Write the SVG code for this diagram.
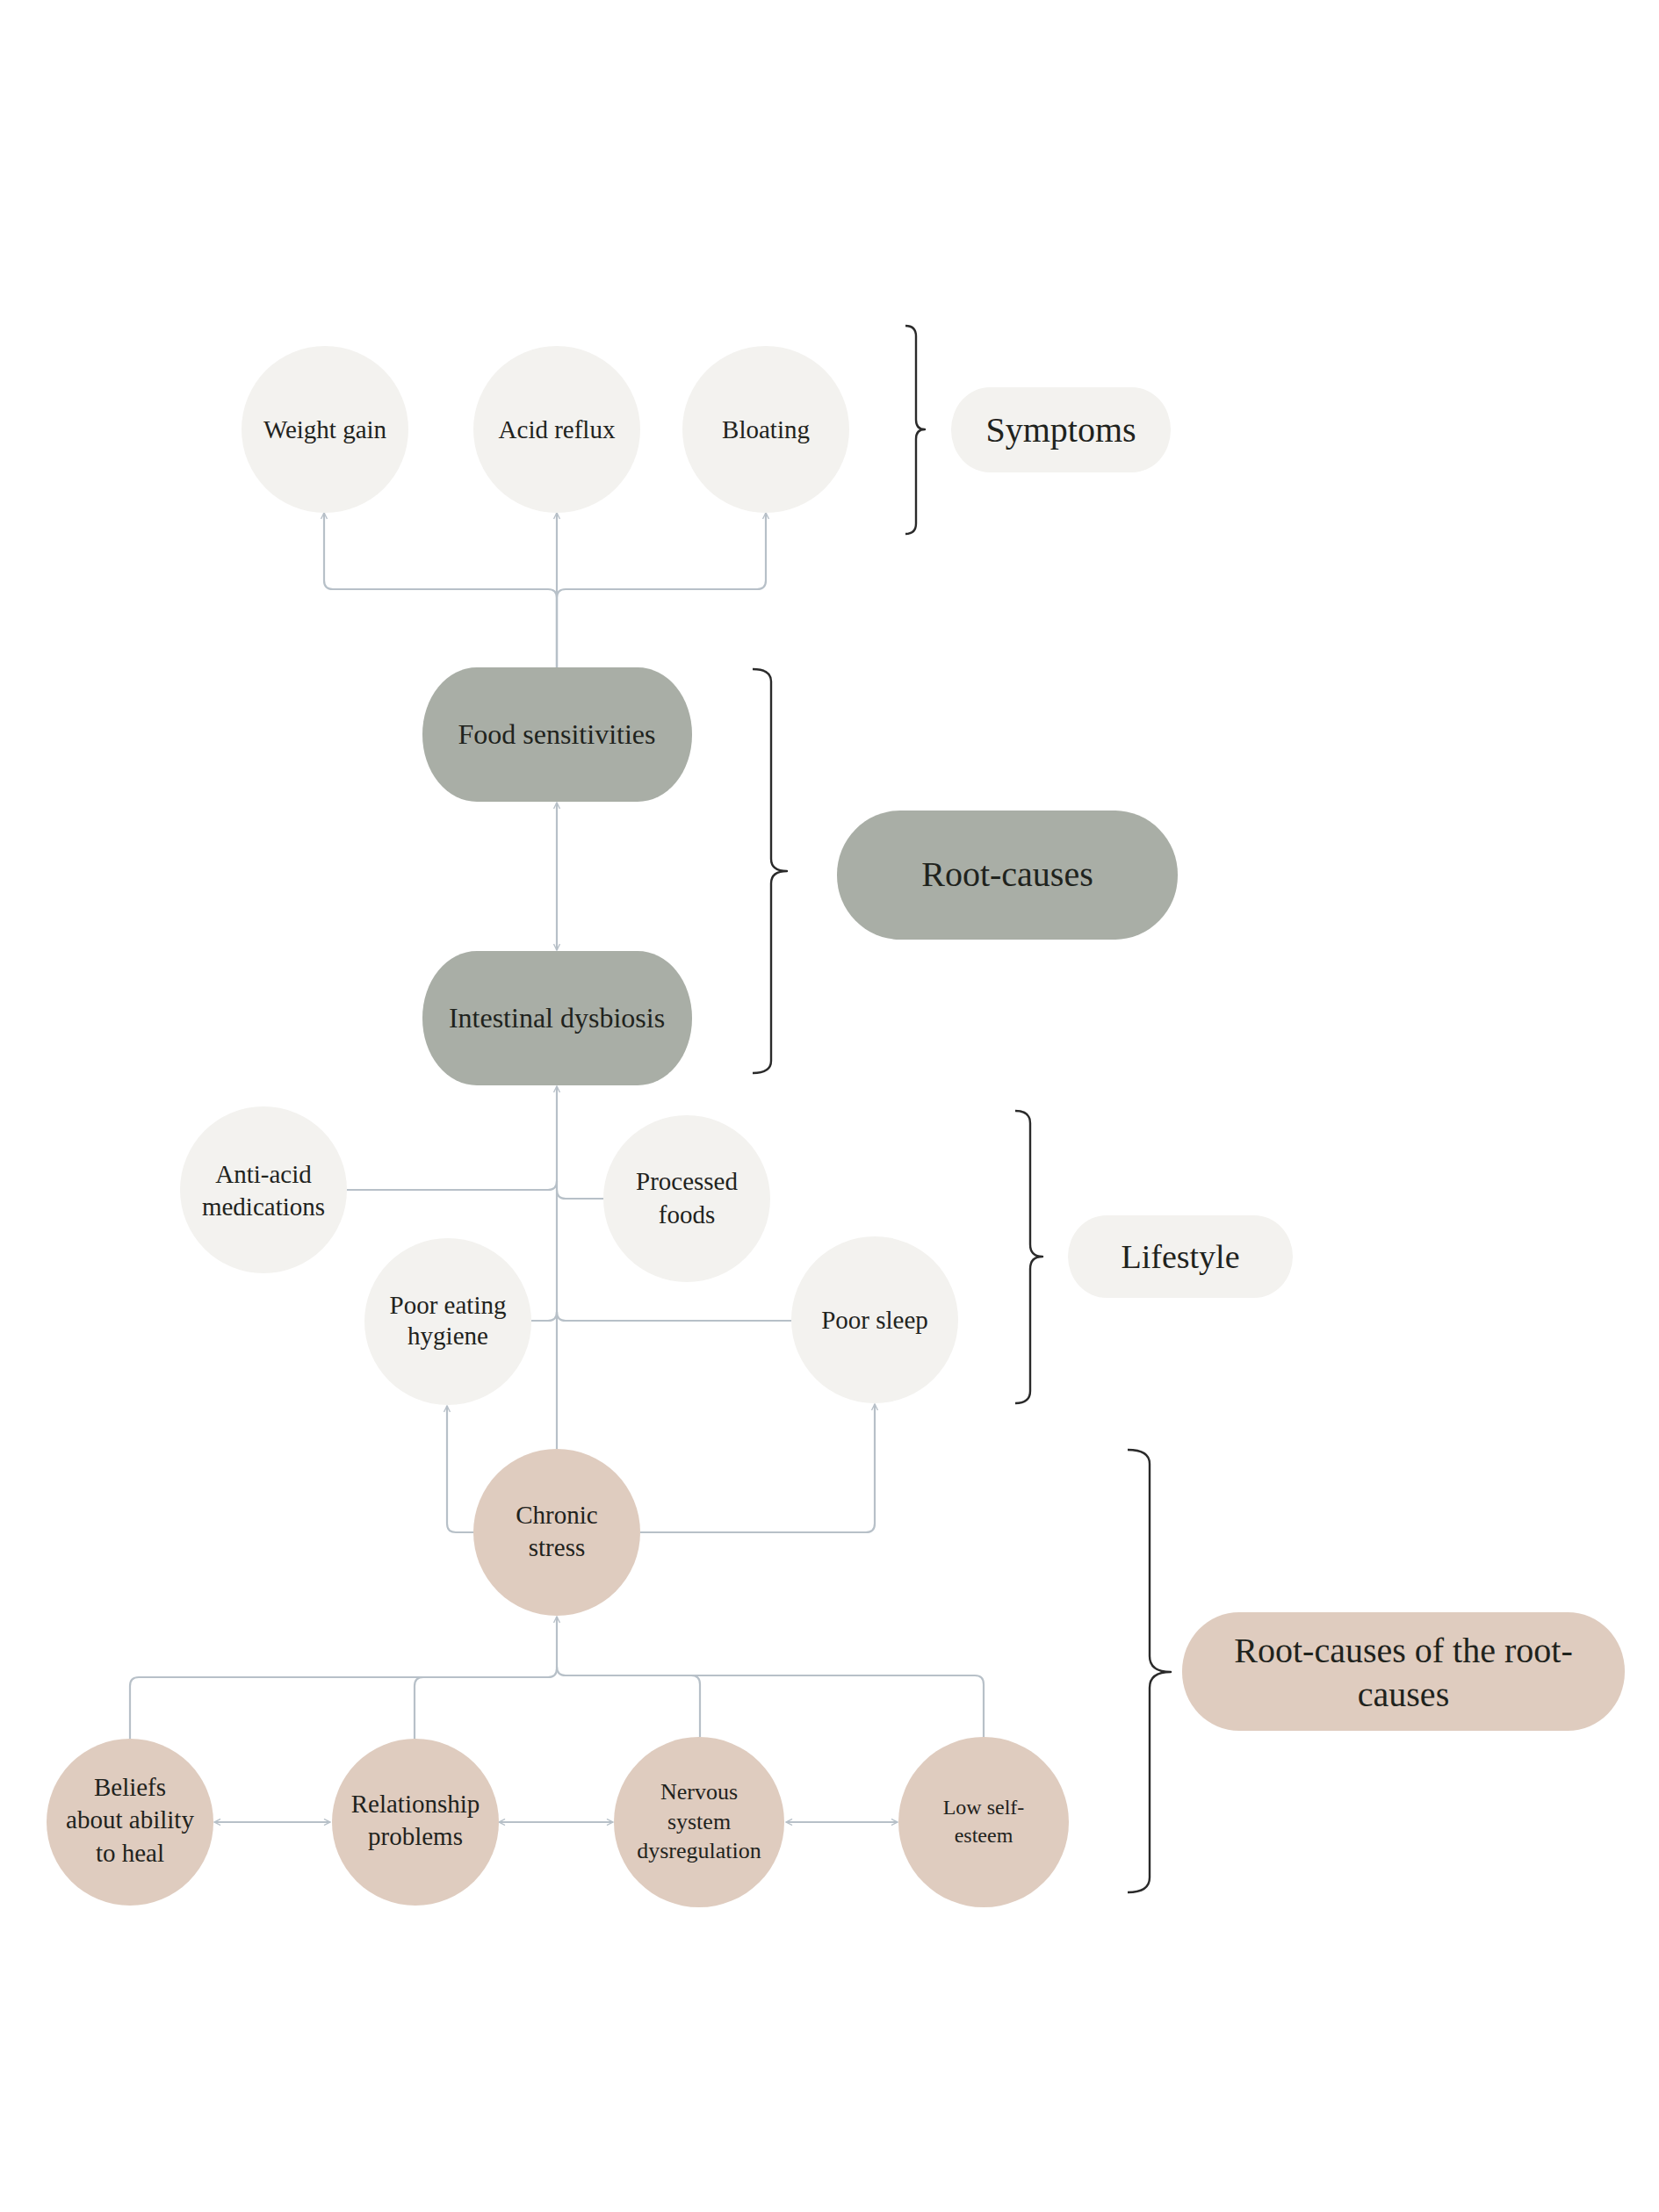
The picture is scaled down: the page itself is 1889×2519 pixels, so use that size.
<svg xmlns="http://www.w3.org/2000/svg" width="1889" height="2519" viewBox="0 0 1889 2519">
<style>
.light{fill:#f3f2ef}
.grey{fill:#a9aea6}
.beige{fill:#dfccbf}
.t{font-family:"Liberation Serif","Times New Roman",serif;fill:#1f231d;text-anchor:middle;dominant-baseline:central}
.n{font-size:29px}
.big{font-size:40px}
.mid{font-size:32px}
.con{fill:none;stroke:#b7c0c8;stroke-width:2.2}
.brace{fill:none;stroke:#2a2a2a;stroke-width:2.4;stroke-linejoin:round}
</style>
<defs>
<marker id="ah" viewBox="0 0 10 10" refX="9" refY="5" markerWidth="4" markerHeight="4" orient="auto-start-reverse" markerUnits="strokeWidth">
<path d="M1,1 L9,5 L1,9" fill="none" stroke="#b7c0c8" stroke-width="1.6"/>
</marker>
</defs>
<rect width="1889" height="2519" fill="#ffffff"/>

<g id="connectors">
<path class="con" d="M634,760 L634,681 Q634,671 624,671 L379,671 Q369,671 369,661 L369,584" marker-end="url(#ah)"/>
<path class="con" d="M634,760 L634,681 Q634,671 644,671 L862,671 Q872,671 872,661 L872,584" marker-end="url(#ah)"/>
<path class="con" d="M634,760 L634,584" marker-end="url(#ah)"/>
<path class="con" d="M634,914 L634,1082" marker-start="url(#ah)" marker-end="url(#ah)"/>
<path class="con" d="M634,1650 L634,1237" marker-end="url(#ah)"/>
<path class="con" d="M395,1355 L624,1355 Q634,1355 634,1345"/>
<path class="con" d="M687,1365 L644,1365 Q634,1365 634,1355"/>
<path class="con" d="M605,1504 L624,1504 Q634,1504 634,1494"/>
<path class="con" d="M901,1504 L644,1504 Q634,1504 634,1494"/>
<path class="con" d="M539,1745 L519,1745 Q509,1745 509,1735 L509,1601" marker-end="url(#ah)"/>
<path class="con" d="M729,1745 L986,1745 Q996,1745 996,1735 L996,1599" marker-end="url(#ah)"/>
<path class="con" d="M148,1980 L148,1920 Q148,1910 158,1910 L624,1910 Q634,1910 634,1900 L634,1841" marker-end="url(#ah)"/>
<path class="con" d="M472,1980 L472,1920 Q472,1910 482,1910 L624,1910"/>
<path class="con" d="M797,1978 L797,1918 Q797,1908 787,1908 L644,1908 Q634,1908 634,1898"/>
<path class="con" d="M1120,1978 L1120,1918 Q1120,1908 1110,1908 L787,1908"/>
<path class="con" d="M244,2075 L376,2075" marker-start="url(#ah)" marker-end="url(#ah)"/>
<path class="con" d="M568,2075 L698,2075" marker-start="url(#ah)" marker-end="url(#ah)"/>
<path class="con" d="M895,2075 L1022,2075" marker-start="url(#ah)" marker-end="url(#ah)"/>
</g>

<g id="braces">
<path class="brace" d="M1031,371 Q1043,371 1043,383 L1043,478 Q1043,489 1053,489 Q1043,489 1043,500 L1043,596 Q1043,608 1031,608"/>
<path class="brace" d="M857,762 Q878,762 878,776 L878,978 Q878,992 896,992 Q878,992 878,1006 L878,1208 Q878,1222 857,1222"/>
<path class="brace" d="M1156,1265 Q1173,1265 1173,1279 L1173,1417 Q1173,1431 1187,1431 Q1173,1431 1173,1445 L1173,1584 Q1173,1598 1156,1598"/>
<path class="brace" d="M1284,1651 Q1309,1651 1309,1667 L1309,1886 Q1309,1904 1333,1904 Q1309,1904 1309,1922 L1309,2138 Q1309,2155 1284,2155"/>
</g>

<g id="weight-gain"><circle class="light" cx="370" cy="489" r="95"/><text class="t n" x="370" y="489">Weight gain</text></g>
<g id="acid-reflux"><circle class="light" cx="634" cy="489" r="95"/><text class="t n" x="634" y="489">Acid reflux</text></g>
<g id="bloating"><circle class="light" cx="872" cy="489" r="95"/><text class="t n" x="872" y="489">Bloating</text></g>
<g id="symptoms"><rect class="light" x="1083" y="441" width="250" height="97" rx="44" ry="48"/><text class="t big" x="1208" y="489">Symptoms</text></g>

<g id="food-sensitivities"><rect class="grey" x="481" y="760" width="307" height="153" rx="62" ry="76"/><text class="t mid" x="634" y="836">Food sensitivities</text></g>
<g id="intestinal-dysbiosis"><rect class="grey" x="481" y="1083" width="307" height="153" rx="62" ry="76"/><text class="t mid" x="634" y="1159">Intestinal dysbiosis</text></g>
<g id="root-causes"><rect class="grey" x="953" y="923" width="388" height="147" rx="72" ry="73"/><text class="t big" x="1147" y="995">Root-causes</text></g>

<g id="anti-acid"><circle class="light" cx="300" cy="1355" r="95"/><text class="t n" x="300" y="1337">Anti-acid</text><text class="t n" x="300" y="1374">medications</text></g>
<g id="processed-foods"><circle class="light" cx="782" cy="1365" r="95"/><text class="t n" x="782" y="1345">Processed</text><text class="t n" x="782" y="1383">foods</text></g>
<g id="poor-eating"><circle class="light" cx="510" cy="1505" r="95"/><text class="t n" x="510" y="1486">Poor eating</text><text class="t n" x="510" y="1521">hygiene</text></g>
<g id="poor-sleep"><circle class="light" cx="996" cy="1503" r="95"/><text class="t n" x="996" y="1503">Poor sleep</text></g>
<g id="lifestyle"><rect class="light" x="1216" y="1384" width="256" height="94" rx="44" ry="47"/><text class="t big" x="1344" y="1431" style="font-size:38px">Lifestyle</text></g>

<g id="chronic-stress"><circle class="beige" cx="634" cy="1745" r="95"/><text class="t n" x="634" y="1725">Chronic</text><text class="t n" x="634" y="1762">stress</text></g>

<g id="beliefs"><circle class="beige" cx="148" cy="2075" r="95"/><text class="t n" x="148" y="2035">Beliefs</text><text class="t n" x="148" y="2072">about ability</text><text class="t n" x="148" y="2110">to heal</text></g>
<g id="relationship"><circle class="beige" cx="473" cy="2075" r="95"/><text class="t n" x="473" y="2054">Relationship</text><text class="t n" x="473" y="2091">problems</text></g>
<g id="nervous"><circle class="beige" cx="796" cy="2075" r="97"/><text class="t" style="font-size:26px" x="796" y="2040">Nervous</text><text class="t" style="font-size:26px" x="796" y="2074">system</text><text class="t" style="font-size:26px" x="796" y="2107">dysregulation</text></g>
<g id="low-self-esteem"><circle class="beige" cx="1120" cy="2075" r="97"/><text class="t" style="font-size:24px" x="1120" y="2058">Low self-</text><text class="t" style="font-size:24px" x="1120" y="2090">esteem</text></g>
<g id="root-causes-of-root"><rect class="beige" x="1346" y="1836" width="504" height="135" rx="65" ry="67"/><text class="t big" x="1598" y="1879">Root-causes of the root-</text><text class="t big" x="1598" y="1929">causes</text></g>
</svg>
